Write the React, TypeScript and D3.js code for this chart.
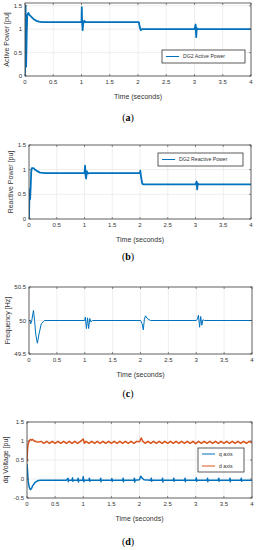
import React from 'react';
import * as d3 from 'd3';

// time ticks shared by all four panels
const timeTicks = [0, 0.5, 1, 1.5, 2, 2.5, 3, 3.5, 4];

// (a) DG2 active power [t, pu]
const activePower: [number, number][] = [
  [0, 0], [0.005, 1.0], [0.01, 1.5], [0.015, 0.9], [0.02, 0.2], [0.03, 0.9], [0.04, 1.3],
  [0.06, 1.35], [0.08, 1.3], [0.1, 1.28], [0.15, 1.22], [0.2, 1.18], [0.25, 1.16], [0.3, 1.15],
  [0.5, 1.15], [1.0, 1.15], [1.005, 1.47], [1.01, 1.2], [1.02, 0.98], [1.03, 1.12], [1.05, 1.18],
  [1.07, 1.15], [2.0, 1.15], [2.015, 1.15], [2.03, 1.05], [2.05, 0.98], [2.07, 1.0], [3.0, 1.0],
  [3.02, 1.1], [3.03, 0.83], [3.04, 1.02], [3.06, 1.0], [4, 1.0],
];

// (b) DG2 reactive power [t, pu]
const reactivePower: [number, number][] = [
  [0, 0], [0.005, 0.3], [0.01, 0.6], [0.02, 0.4], [0.03, 0.65], [0.04, 0.95], [0.05, 1.03],
  [0.08, 1.03], [0.1, 1.01], [0.15, 0.97], [0.2, 0.94], [0.3, 0.93], [1.0, 0.93], [1.01, 1.08],
  [1.02, 0.88], [1.03, 0.82], [1.04, 0.97], [1.06, 0.92], [1.08, 0.93], [2.0, 0.93], [2.005, 0.98],
  [2.02, 0.85], [2.04, 0.72], [2.06, 0.7], [3.0, 0.7], [3.02, 0.76], [3.03, 0.6], [3.04, 0.72],
  [3.06, 0.7], [4, 0.7],
];

// (c) frequency [t, Hz]
const frequency: [number, number][] = [
  [0, 50], [0.02, 50.0], [0.03, 49.95], [0.05, 50.0], [0.07, 50.1], [0.08, 50.15], [0.1, 50.0],
  [0.12, 49.8], [0.15, 49.66], [0.18, 49.8], [0.22, 49.95], [0.28, 50], [1.0, 50], [1.01, 50.05],
  [1.03, 49.88], [1.05, 50.04], [1.07, 49.88], [1.09, 50.03], [1.11, 49.98], [1.14, 50], [2.0, 50],
  [2.03, 49.95], [2.05, 49.86], [2.07, 50.02], [2.09, 50.07], [2.12, 50.03], [2.18, 50], [3.0, 50],
  [3.02, 50.02], [3.04, 50.08], [3.06, 49.9], [3.08, 50.06], [3.1, 49.93], [3.12, 50.01],
  [3.15, 50], [4, 50],
];

// (d) q axis voltage [t, pu]
const qAxis: [number, number][] = [
  [0, 0.4], [0.01, 0.2], [0.02, -0.05], [0.04, -0.22], [0.06, -0.28], [0.08, -0.25], [0.1, -0.18],
  [0.15, -0.08], [0.2, -0.04], [0.25, -0.03], [0.7, -0.03], [0.73, 0.02], [0.735, -0.07],
  [0.74, -0.03], [0.8, -0.03], [0.81, 0.03], [0.815, -0.06], [0.82, -0.03], [0.9, -0.03],
  [0.91, 0.02], [0.915, -0.08], [0.92, -0.03], [0.99, -0.03], [1.0, 0.06], [1.01, -0.07],
  [1.02, -0.03], [1.1, -0.03], [1.11, 0.02], [1.115, -0.06], [1.12, -0.03], [1.3, -0.03],
  [1.31, 0.02], [1.315, -0.07], [1.32, -0.03], [1.5, -0.03], [1.51, 0.01], [1.515, -0.06],
  [1.52, -0.03], [1.7, -0.03], [1.71, 0.02], [1.715, -0.07], [1.72, -0.03], [1.9, -0.03],
  [1.91, 0.02], [1.915, -0.08], [1.92, -0.03], [2.0, -0.02], [2.02, 0.07], [2.05, 0.02],
  [2.08, -0.02], [2.2, -0.03], [2.21, 0.02], [2.215, -0.06], [2.22, -0.03], [2.4, -0.03],
  [2.41, 0.02], [2.415, -0.08], [2.42, -0.03], [2.6, -0.03], [2.61, 0.02], [2.615, -0.06],
  [2.62, -0.03], [2.8, -0.03], [2.81, 0.02], [2.815, -0.07], [2.82, -0.03], [3.0, -0.03],
  [3.01, 0.03], [3.015, -0.06], [3.02, -0.03], [3.2, -0.03], [3.21, 0.02], [3.215, -0.07],
  [3.22, -0.03], [3.4, -0.03], [3.41, 0.02], [3.415, -0.06], [3.42, -0.03], [3.6, -0.03],
  [3.61, 0.02], [3.615, -0.07], [3.62, -0.03], [3.8, -0.03], [3.81, 0.02], [3.815, -0.06],
  [3.82, -0.03], [4, -0.03],
];

// (d) d axis voltage [t, pu]
const dAxis: [number, number][] = [
  [0, 0.45], [0.01, 0.8], [0.02, 0.92], [0.04, 1.0], [0.06, 1.04], [0.08, 1.02], [0.1, 1.04],
  [0.13, 1.0], [0.17, 0.98], [0.2, 0.97],
  [0.25, 0.99], [0.3, 0.94], [0.35, 0.99], [0.4, 0.94], [0.45, 0.99], [0.5, 0.94], [0.55, 0.99],
  [0.6, 0.94], [0.65, 0.99], [0.7, 0.94], [0.75, 0.99], [0.8, 0.94], [0.85, 0.99], [0.9, 0.94],
  [0.95, 0.99], [1.0, 1.05], [1.02, 0.94], [1.05, 0.99], [1.1, 0.94], [1.15, 0.99], [1.2, 0.94],
  [1.25, 0.99], [1.3, 0.94], [1.35, 0.99], [1.4, 0.94], [1.45, 0.99], [1.5, 0.94], [1.55, 0.99],
  [1.6, 0.94], [1.65, 0.99], [1.7, 0.94], [1.75, 0.99], [1.8, 0.94], [1.85, 0.99], [1.9, 0.94],
  [1.95, 0.99], [2.0, 0.98], [2.03, 1.08], [2.06, 0.99], [2.1, 0.94], [2.15, 0.99], [2.2, 0.94],
  [2.25, 0.99], [2.3, 0.94], [2.35, 0.99], [2.4, 0.94], [2.45, 0.99], [2.5, 0.94], [2.55, 0.99],
  [2.6, 0.94], [2.65, 0.99], [2.7, 0.94], [2.75, 0.99], [2.8, 0.94], [2.85, 0.99], [2.9, 0.94],
  [2.95, 0.99], [3.0, 0.93], [3.05, 0.99], [3.1, 0.94], [3.15, 0.99], [3.2, 0.94], [3.25, 0.99],
  [3.3, 0.94], [3.35, 0.99], [3.4, 0.94], [3.45, 0.99], [3.5, 0.94], [3.55, 0.99], [3.6, 0.94],
  [3.65, 0.99], [3.7, 0.94], [3.75, 0.99], [3.8, 0.94], [3.85, 0.99], [3.9, 0.94], [3.95, 0.99],
  [4.0, 0.95],
];

const yTicksPu = [0, 0.5, 1, 1.5];
const yTicksHz = [49.5, 50, 50.5];
const yTicksDq = [-0.5, 0, 0.5, 1, 1.5];

const BLUE = '#0072BD';
const ORANGE = '#D95319';
const FONT = 'Liberation Sans, Arial, sans-serif';

type Series = { data: [number, number][]; color: string; width: number; label: string };

type PanelProps = {
  left: number; right: number; top: number; bottom: number;
  yDomain: [number, number]; yTicks: number[]; yTitle: string;
  series: Series[];
  legend?: { x: number; y: number; w: number; h: number; showAll: boolean };
  caption: string; captionY: number;
};

function Panel(p: PanelProps) {
  const x = d3.scaleLinear().domain([0, 4]).range([p.left, p.right]);
  const y = d3.scaleLinear().domain(p.yDomain).range([p.bottom, p.top]);
  const line = d3.line<[number, number]>().x(d => x(d[0])).y(d => y(d[1]));
  const fmt = (v: number) => String(v);
  const clipId = 'clip' + p.caption;
  return (
    <g>
      <defs>
        <clipPath id={clipId}>
          <rect x={p.left} y={p.top} width={p.right - p.left} height={p.bottom - p.top} />
        </clipPath>
      </defs>
      <rect x={p.left} y={p.top} width={p.right - p.left} height={p.bottom - p.top} fill="#fff" />
      {timeTicks.map(t => (
        <line key={'gx' + t} x1={x(t)} x2={x(t)} y1={p.top} y2={p.bottom} stroke="#e4e4e4" strokeWidth={0.6} />
      ))}
      {p.yTicks.map(v => (
        <line key={'gy' + v} x1={p.left} x2={p.right} y1={y(v)} y2={y(v)} stroke="#e4e4e4" strokeWidth={0.6} />
      ))}
      <g clipPath={`url(#${clipId})`}>
        {p.series.map(s => (
          <path key={s.label} d={line(s.data) || ''} fill="none" stroke={s.color} strokeWidth={s.width} strokeLinejoin="round" />
        ))}
      </g>
      {timeTicks.map(t => (
        <g key={'tx' + t}>
          <line x1={x(t)} x2={x(t)} y1={p.bottom} y2={p.bottom - 2} stroke="#444" strokeWidth={0.6} />
          <line x1={x(t)} x2={x(t)} y1={p.top} y2={p.top + 2} stroke="#444" strokeWidth={0.6} />
          <text x={x(t)} y={p.bottom + 8} textAnchor="middle" fontSize={6} fill="#333" fontFamily={FONT}>{fmt(t)}</text>
        </g>
      ))}
      {p.yTicks.map(v => (
        <g key={'ty' + v}>
          <line x1={p.left} x2={p.left + 2} y1={y(v)} y2={y(v)} stroke="#444" strokeWidth={0.6} />
          <line x1={p.right} x2={p.right - 2} y1={y(v)} y2={y(v)} stroke="#444" strokeWidth={0.6} />
          <text x={p.left - 3} y={y(v) + 2} textAnchor="end" fontSize={6} fill="#333" fontFamily={FONT}>{fmt(v)}</text>
        </g>
      ))}
      <rect x={p.left} y={p.top} width={p.right - p.left} height={p.bottom - p.top} fill="none" stroke="#444" strokeWidth={0.8} />
      <text
        transform={`translate(${p.left - (p.yDomain[0] < 0 || p.yDomain[1] > 10 ? 19 : 16)},${(p.top + p.bottom) / 2}) rotate(-90)`}
        textAnchor="middle" fontSize={7} fill="#333" fontFamily={FONT}
      >{p.yTitle}</text>
      <text x={(p.left + p.right) / 2} y={p.bottom + 23} textAnchor="middle" fontSize={7} fill="#333" fontFamily={FONT}>
        Time (seconds)
      </text>
      {p.legend && (
        <g>
          <rect x={p.legend.x} y={p.legend.y} width={p.legend.w} height={p.legend.h} fill="#fff" stroke="#333" strokeWidth={0.8} />
          {p.series.map((s, i) => {
            const n = p.series.length;
            const ly = p.legend!.y + (p.legend!.h / n) * (i + 0.5);
            return (
              <g key={'lg' + s.label}>
                <line x1={p.legend!.x + 4} x2={p.legend!.x + 17} y1={ly} y2={ly} stroke={s.color} strokeWidth={1} />
                <text x={p.legend!.x + 21} y={ly + 1.8} fontSize={5.2} fill="#333" fontFamily={FONT}>{s.label}</text>
              </g>
            );
          })}
        </g>
      )}
      <text x={128} y={p.captionY} textAnchor="middle" fontSize={10} fontFamily="Liberation Serif, serif" fill="#000">
        (<tspan fontWeight="bold">{p.caption}</tspan>)
      </text>
    </g>
  );
}

export default function App() {
  return (
    <svg width={256} height={550} style={{ position: 'absolute', left: 0, top: 0, background: '#fff' }}>
      <rect width={256} height={550} fill="#fff" />
      <Panel
        left={25} right={251} top={3} bottom={76}
        yDomain={[0, 1.56]} yTicks={yTicksPu} yTitle="Active Power [pu]"
        series={[{ data: activePower, color: BLUE, width: 1.8, label: 'DG2 Active Power' }]}
        legend={{ x: 162, y: 50, w: 83, h: 13, showAll: true }}
        caption="a" captionY={121}
      />
      <Panel
        left={29} right={251} top={145} bottom={219}
        yDomain={[0, 1.5]} yTicks={yTicksPu} yTitle="Reactive Power [pu]"
        series={[{ data: reactivePower, color: BLUE, width: 1.8, label: 'DG2 Reactive Power' }]}
        legend={{ x: 158, y: 153, w: 85, h: 13, showAll: true }}
        caption="b" captionY={260}
      />
      <Panel
        left={29} right={252} top={287} bottom={354}
        yDomain={[49.5, 50.5]} yTicks={yTicksHz} yTitle="Frequency [Hz]"
        series={[{ data: frequency, color: BLUE, width: 1, label: 'Frequency' }]}
        caption="c" captionY={397}
      />
      <Panel
        left={27} right={252} top={422} bottom={498}
        yDomain={[-0.5, 1.5]} yTicks={yTicksDq} yTitle="dq Voltage [pu]"
        series={[
          { data: qAxis, color: BLUE, width: 1.5, label: 'q axis' },
          { data: dAxis, color: ORANGE, width: 1.5, label: 'd axis' },
        ]}
        legend={{ x: 198, y: 448, w: 46, h: 24, showAll: true }}
        caption="d" captionY={545}
      />
    </svg>
  );
}
